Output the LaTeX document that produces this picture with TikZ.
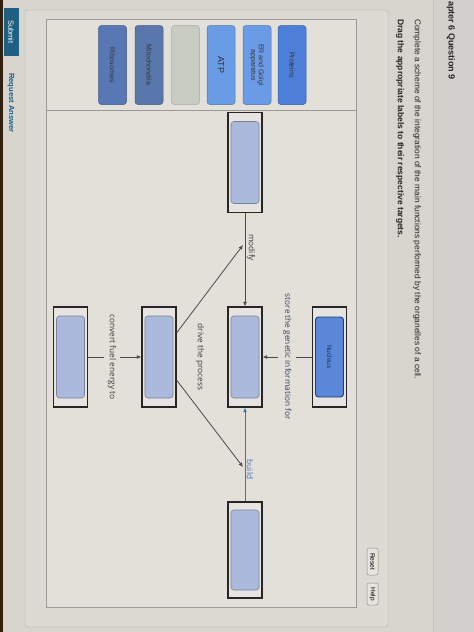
\documentclass[tikz,border=0pt]{standalone}
\usepackage{fontspec}
\setmainfont{Liberation Sans}
\newfontfamily\lblfont{Open Sans}
\usetikzlibrary{arrows.meta}

\definecolor{photobg}{HTML}{D8D5CF}
\definecolor{sidebg}{HTML}{D2D0CC}
\definecolor{outerbg}{HTML}{DDDAD4}
\definecolor{panelbg}{HTML}{E3E0DA}
\definecolor{tgtbg}{HTML}{E6E4E0}
\definecolor{slotfill}{HTML}{AAB9DC}
\definecolor{slotline}{HTML}{7C8190}
\definecolor{nucblue}{HTML}{5B87D8}
\definecolor{nucedge}{HTML}{243C78}
\definecolor{lblgray}{HTML}{3E3E3E}
\definecolor{storeblue}{HTML}{34445F}
\definecolor{buildblue}{HTML}{4472B8}
\definecolor{linegray}{HTML}{4A4A4A}
\definecolor{ribo}{HTML}{5878B5}
\definecolor{mito}{HTML}{5A77AC}
\definecolor{faded}{HTML}{C8CCC2}
\definecolor{atpblue}{HTML}{6A9CE6}
\definecolor{erblue}{HTML}{6B9BE7}
\definecolor{protblue}{HTML}{4E7FD8}
\definecolor{submitbg}{HTML}{1F5F80}

\tikzset{
  target/.style={draw=black!85, line width=1.1pt, fill=tgtbg, minimum width=34pt, minimum height=100pt, inner sep=0pt},
  slot/.style={draw=slotline, line width=0.6pt, rounded corners=3pt, fill=slotfill, minimum width=28pt, minimum height=82pt, inner sep=0pt},
  nucbox/.style={rotate=-90, draw=nucedge, line width=0.9pt, rounded corners=3pt, fill=nucblue, minimum width=80pt, minimum height=28pt, inner sep=0pt, font=\fontsize{6.5}{7}\selectfont, text=nucedge!80!black},
  tile/.style={rotate=-90, draw=#1!75!black, line width=0.5pt, fill=#1, rounded corners=3pt, minimum width=79pt, minimum height=28pt, inner sep=1pt, align=center, font=\fontsize{7}{7.6}\selectfont, text=black!80},
  lbl/.style={rotate=-90, font=\lblfont\fontsize{8.3}{10}\selectfont, text=lblgray, inner sep=1.5pt},
  headtxt/.style={rotate=-90, anchor=west, inner sep=0pt, text=black!85},
  btn/.style={rotate=-90, draw=black!45, line width=0.5pt, fill=tgtbg, rounded corners=2pt, minimum height=11pt, inner sep=1pt, font=\fontsize{6.5}{7}\selectfont}
}

\begin{document}
\begin{tikzpicture}[x=1pt, y=-1pt, >={Latex[length=4.5pt,width=4pt]}]
  \useasboundingbox (0,0) rectangle (474,632);
  % page and panels
  \fill[photobg] (0,0) rectangle (474,632);
  \fill[sidebg] (433,0) rectangle (474,632);
  \draw[black!25] (433,0) -- (433,632);
  \fill[black!75!brown] (0,0) rectangle (3,632);
  \draw[black!30, fill=outerbg, rounded corners=3pt] (25,10) rectangle (388,627);
  \draw[black!40, fill=panelbg] (46,19) rectangle (356,607);
  \draw[black!40] (46,110) -- (356,110);

  % heading
  \node[headtxt, font=\bfseries\fontsize{9}{11}\selectfont] (title) at (451,1) {apter 6 Question 9};
  \node[headtxt, font=\fontsize{8.4}{10}\selectfont] (intro) at (417,19) {Complete a scheme of the integration of the main functions performed by the organelles of a cell.};
  \node[headtxt, font=\bfseries\fontsize{8.5}{10}\selectfont] (drag) at (400,19) {Drag the appropriate labels to their respective targets.};

  % label bank
  \node[tile=ribo] (ribosomes) at (112.5,65) {Ribosomes};
  \node[tile=mito] (mitochondria) at (149,65) {Mitochondria};
  \node[tile=faded, draw=faded!85!black] (emptyTile) at (185.5,65) {};
  \node[tile=atpblue, font=\rmfamily\fontsize{9}{10}\selectfont] (atp) at (221,65) {ATP};
  \node[tile=erblue] (erGolgi) at (257,65) {ER and Golgi\\apparatus};
  \node[tile=protblue] (proteins) at (292,65) {Proteins};

  % targets
  \node[target] (topT) at (245,162.5) {};
  \node[slot] (topS) at (topT) {};
  \node[target] (midT) at (245,357) {};
  \node[slot] (midS) at (midT) {};
  \node[target] (nucT) at (329.5,357) {};
  \node[nucbox] (nucleus) at (nucT) {Nucleus};
  \node[target] (lmT) at (159,357) {};
  \node[slot] (lmS) at (lmT) {};
  \node[target] (leftT) at (70.5,357) {};
  \node[slot] (leftS) at (leftT) {};
  \node[target, minimum height=96pt] (botT) at (245,550) {};
  \node[slot, minimum height=80pt] (botS) at (botT) {};

  \coordinate (modHit) at (243,245);
  \coordinate (buildHit) at (243,467);

  % connectors
  \draw[->, linegray, line width=0.8pt] (topT.south) -- node[lbl, pos=0.37, anchor=south] (modify) {modify} (midT.north);
  \draw[->, buildblue, line width=0.8pt] (botT.north) -- node[lbl, pos=0.34, anchor=south, text=buildblue] (build) {build} (midT.south);
  \draw[->, linegray, line width=0.8pt] (nucT.west) -- node[lbl, midway, fill=panelbg, inner ysep=5pt, text=storeblue] (store) {store the genetic information for} (midT.east);
  \draw[->, linegray, line width=0.8pt] (leftT.east) -- node[lbl, pos=0.45, fill=panelbg, inner ysep=4pt] (convert) {convert fuel energy to} (lmT.west);
  \draw[->, linegray, line width=0.8pt] ([yshift=24pt]lmT.east) -- (modHit);
  \draw[->, linegray, line width=0.8pt] ([yshift=-23pt]lmT.east) -- (buildHit);
  \node[lbl] (drive) at (200,357) {drive the process};

  % buttons
  \node[btn, minimum width=27pt] (reset) at (372.5,561.5) {Reset};
  \node[btn, minimum width=22pt] (help) at (372.5,594) {Help};
  \node[rotate=-90, fill=submitbg, text=white!90, minimum width=48pt, minimum height=15pt, inner sep=0pt, font=\fontsize{7.5}{8}\selectfont] (submit) at (11,32) {Submit};
  \node[rotate=-90, text=submitbg, inner sep=0pt, font=\bfseries\fontsize{7.6}{8}\selectfont] (request) at (11,103) {Request Answer};
\end{tikzpicture}
\end{document}
